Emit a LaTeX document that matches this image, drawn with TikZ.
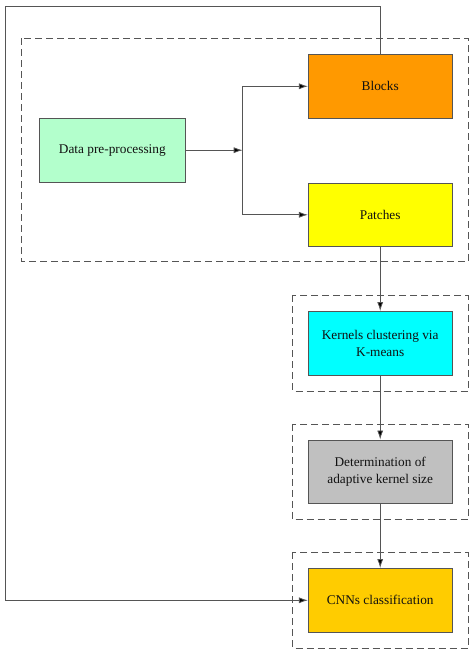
\documentclass[tikz,border=0pt]{standalone}
\usepackage{fontspec}
\setmainfont{Liberation Serif}
\usepackage{xcolor}
\usetikzlibrary{arrows.meta, positioning, calc}
\definecolor{MintBox}{HTML}{B3FFCC}
\definecolor{OrangeBox}{HTML}{FF9900}
\definecolor{YellowBox}{HTML}{FFFF00}
\definecolor{CyanBox}{HTML}{00FFFF}
\definecolor{GreyBox}{HTML}{C0C0C0}
\definecolor{GoldBox}{HTML}{FFCC00}
\definecolor{Edge}{HTML}{555555}
\definecolor{Ink}{HTML}{111111}

\begin{document}
\begin{tikzpicture}[x=1pt, y=-1pt,
    stage/.style={rectangle, draw=Edge, line width=0.8pt,
          minimum width=143.7pt, minimum height=63.7pt, inner sep=0pt,
          text=Ink, align=center, font=\fontsize{13.3}{16.7}\selectfont},
    link/.style={draw=Edge, line width=0.8pt,
          -{Latex[length=9pt,width=6pt,fill=black]}},
    frame/.style={draw=Edge, line width=0.8pt, dash pattern=on 7pt off 4pt}]
    \useasboundingbox (0,0) rectangle (474,652);

    % Stages
    \node[stage, fill=MintBox, minimum width=146.7pt] (data) at (112.3,150.2) {Data pre-processing};
    \node[stage, fill=OrangeBox] (blocks) at (380.2,86.3) {Blocks};
    \node[stage, fill=YellowBox, below=64pt of blocks] (patches) {Patches};
    \node[stage, fill=CyanBox, below=64pt of patches] (kernels) {Kernels clustering via\\K-means};
    \node[stage, fill=GreyBox, below=64pt of kernels] (determ) {Determination of\\adaptive kernel size};
    \node[stage, fill=GoldBox, below=64pt of determ] (cnn) {CNNs classification};

    % Dashed groups
    \draw[frame] (21.7,38.3) rectangle (468.3,261.7);
    \foreach \n in {kernels, determ, cnn}
        \draw[frame] ($(\n.north west)+(-15.6,-15.6)$) rectangle ($(\n.south east)+(15.6,15.6)$);

    % Connectors
    \coordinate (split) at (242.7,150.2);
    \coordinate (loop) at (5.3,6);
    \draw[link] (data) -- (split);
    \draw[link] (split) |- (blocks);
    \draw[link] (split) |- (patches);
    \draw[link] (patches) -- (kernels);
    \draw[link] (kernels) -- (determ);
    \draw[link] (determ) -- (cnn);
    \draw[link] (blocks.north) |- (loop) |- (cnn);
\end{tikzpicture}
\end{document}
